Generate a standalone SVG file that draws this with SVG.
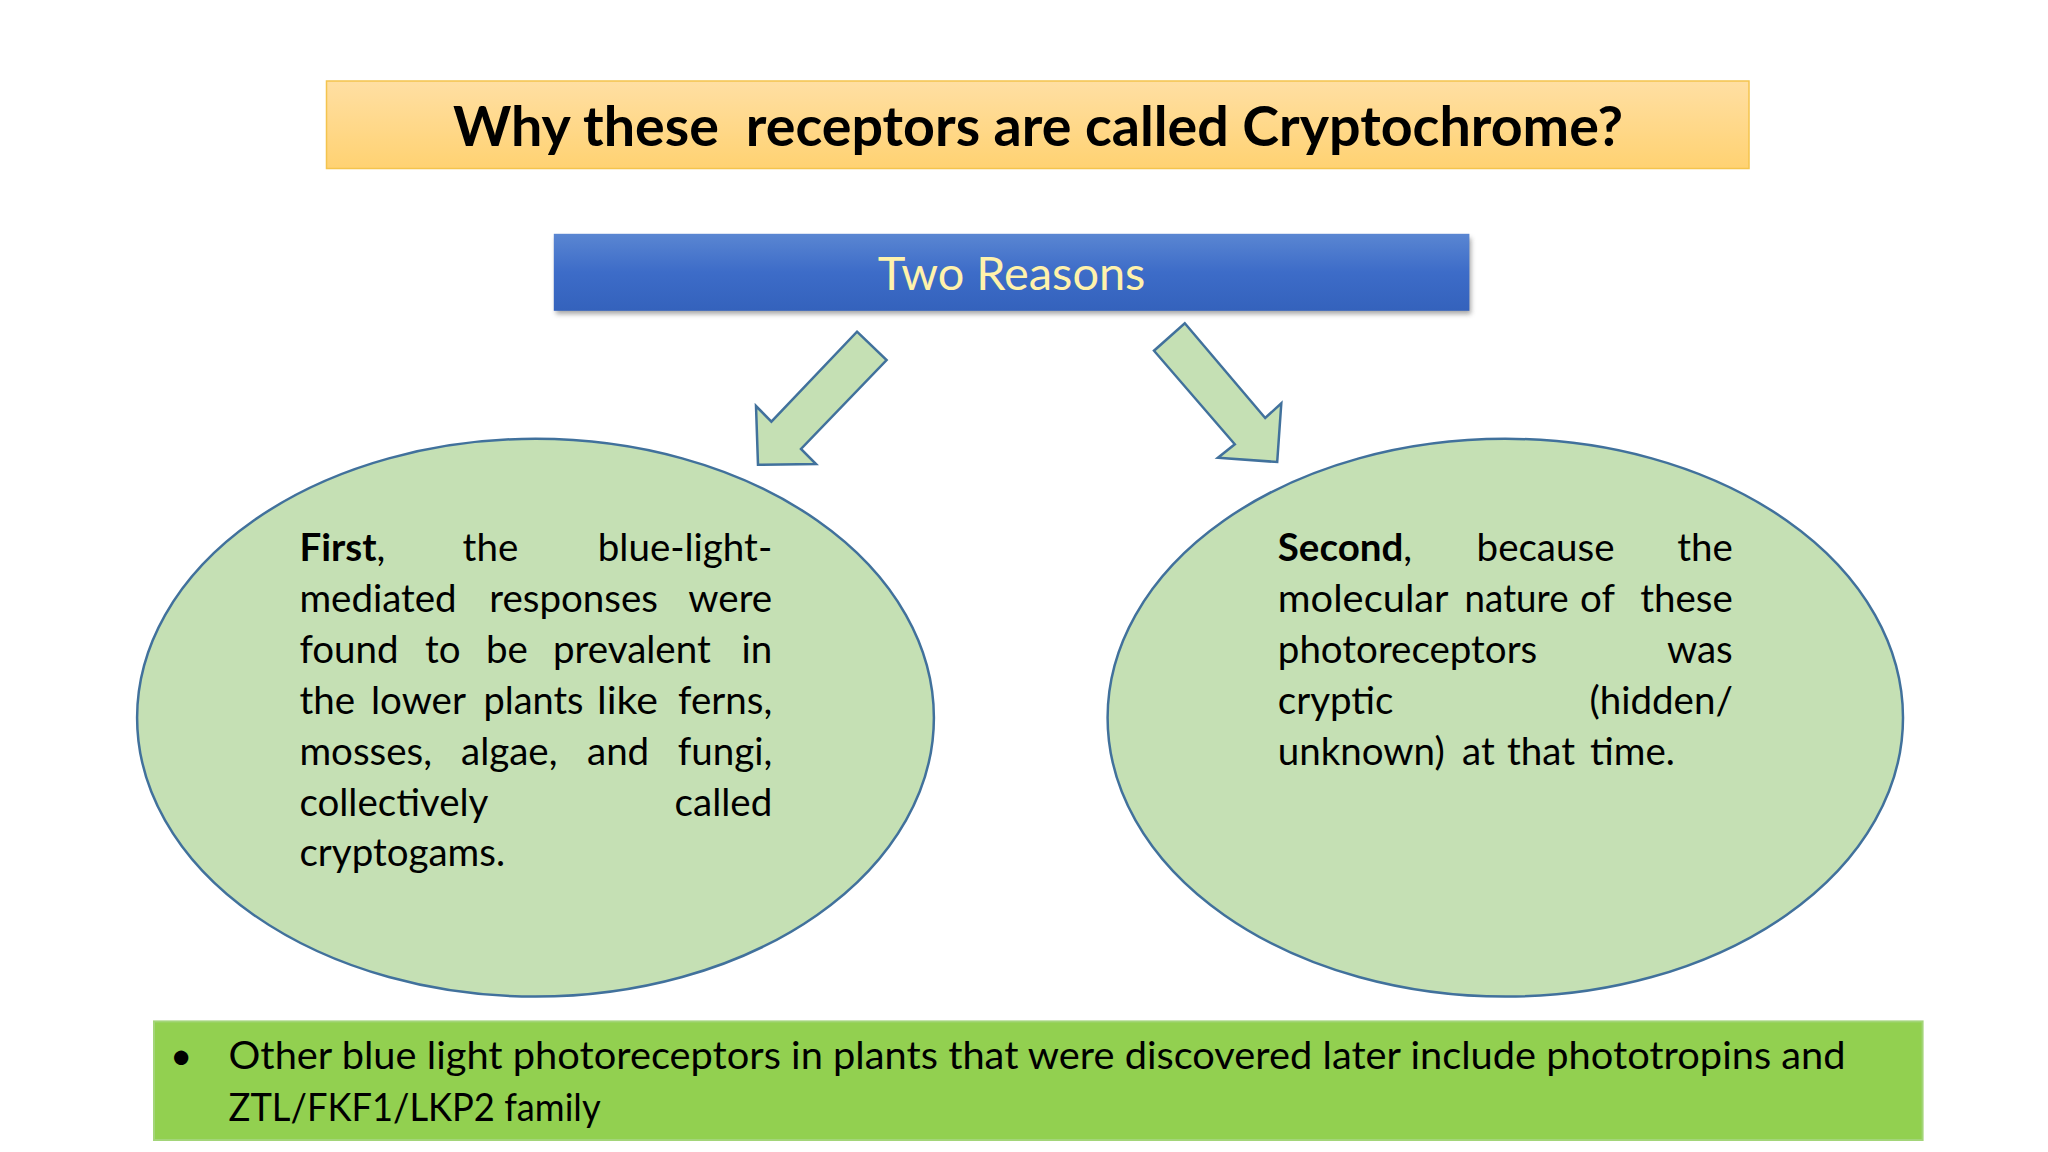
<svg xmlns="http://www.w3.org/2000/svg" width="2048" height="1152" viewBox="0 0 2048 1152">
<defs>
<linearGradient id="gTitle" x1="0" y1="0" x2="0" y2="1">
<stop offset="0" stop-color="#FFDFA3"/><stop offset="1" stop-color="#FFD272"/>
</linearGradient>
<linearGradient id="gBlue" x1="0" y1="0" x2="0" y2="1">
<stop offset="0" stop-color="#5A86D2"/><stop offset="0.5" stop-color="#3D6CC8"/><stop offset="1" stop-color="#3462BC"/>
</linearGradient>
<filter id="shadow" x="-5%" y="-20%" width="110%" height="160%">
<feGaussianBlur stdDeviation="2.5"/>
</filter>
<style>
.body{font-family:Lato,"Open Sans",sans-serif;font-size:38.5px;fill:#000}
.end{text-anchor:end}
.b{font-weight:bold}
.shape{fill:#C5E0B4;stroke:#41719C;stroke-width:2.5}
</style>
</defs>
<rect width="2048" height="1152" fill="#FFFFFF"/>

<g id="title">
<rect x="326.5" y="81" width="1422.5" height="87.5" fill="url(#gTitle)" stroke="#F4C44E" stroke-width="1.5"/>
<text x="453" y="145.5" textLength="1170" lengthAdjust="spacingAndGlyphs" style="white-space:pre" font-family="Lato, 'Open Sans', sans-serif" font-weight="bold" font-size="55" fill="#000">Why these  receptors are called Cryptochrome?</text>
</g>

<g id="two-reasons">
<rect x="556" y="238" width="915" height="76" fill="#7F7F7F" opacity="0.7" filter="url(#shadow)"/>
<rect x="553.8" y="233.8" width="915.6" height="77" fill="url(#gBlue)"/>
<text x="877.7" y="289.5" textLength="267.7" lengthAdjust="spacingAndGlyphs" font-family="Lato, 'Open Sans', sans-serif" font-size="46" fill="#FFF2AB">Two Reasons</text>
</g>

<g id="connectors">
<polygon class="shape" points="857,331.7 886.6,360 801,449 816,464 758,464.7 756,406 771.4,421.7"/>
<polygon class="shape" points="1184.8,323.3 1265.2,418 1281.3,403.3 1277.2,462 1217.9,457.7 1234.8,444.3 1154,350.7"/>
</g>

<g id="first-reason">
<ellipse class="shape" cx="535.5" cy="717.7" rx="398.4" ry="278.9" stroke-width="2"/>
<text class="body">
<tspan x="299.4" y="561" class="b">First</tspan><tspan>,</tspan>
<tspan x="462.6" y="561">the</tspan>
<tspan x="299.4" y="611.9">mediated</tspan>
<tspan x="489.2" y="611.9">responses</tspan>
<tspan x="299.4" y="662.8">found</tspan>
<tspan x="425" y="662.8">to</tspan>
<tspan x="486" y="662.8">be</tspan>
<tspan x="553" y="662.8">prevalent</tspan>
<tspan x="299.4" y="713.7">the</tspan>
<tspan x="371" y="713.7">lower</tspan>
<tspan x="483.5" y="713.7" textLength="100" lengthAdjust="spacingAndGlyphs">plants</tspan>
<tspan x="597" y="713.7" textLength="61" lengthAdjust="spacingAndGlyphs">like</tspan>
<tspan x="299.4" y="764.6">mosses,</tspan>
<tspan x="461" y="764.6">algae,</tspan>
<tspan x="587" y="764.6">and</tspan>
<tspan x="299.4" y="815.5">collectively</tspan>
<tspan x="299.4" y="866.4">cryptogams.</tspan>
</text>
<text class="body end" x="772.2" y="561">blue-light-</text>
<text class="body end" x="772.2" y="611.9">were</text>
<text class="body end" x="772.2" y="662.8">in</text>
<text class="body end" x="772.2" y="713.7">ferns,</text>
<text class="body end" x="772.2" y="764.6">fungi,</text>
<text class="body end" x="772.2" y="815.5">called</text>
</g>

<g id="second-reason">
<ellipse class="shape" cx="1505.3" cy="717.7" rx="397.7" ry="278.9" stroke-width="2"/>
<text class="body">
<tspan x="1277.8" y="561" class="b">Second</tspan><tspan>,</tspan>
<tspan x="1476.6" y="561">because</tspan>
<tspan x="1277.8" y="611.9" textLength="170" lengthAdjust="spacingAndGlyphs">molecular</tspan>
<tspan x="1464.5" y="611.9" textLength="104" lengthAdjust="spacingAndGlyphs">nature</tspan>
<tspan x="1580" y="611.9">of</tspan>
<tspan x="1277.8" y="662.8">photoreceptors</tspan>
<tspan x="1277.8" y="713.7">cryptic</tspan>
<tspan x="1277.8" y="764.6">unknown)</tspan>
<tspan x="1462" y="764.6">at</tspan>
<tspan x="1507" y="764.6">that</tspan>
<tspan x="1590" y="764.6">time.</tspan>
</text>
<text class="body end" x="1732.8" y="561">the</text>
<text class="body end" x="1732.8" y="611.9">these</text>
<text class="body end" x="1732.8" y="662.8">was</text>
<text class="body end" x="1732.8" y="713.7">(hidden/</text>
</g>

<g id="note">
<rect x="154" y="1021.4" width="1768.6" height="118.6" fill="#92D050" stroke="#A3D579" stroke-width="2"/>
<text class="body" x="170" y="1069">•</text>
<text class="body" x="228.6" y="1069" textLength="1617" lengthAdjust="spacingAndGlyphs">Other blue light photoreceptors in plants that were discovered later include phototropins and</text>
<text class="body" x="228.6" y="1120.5" textLength="372" lengthAdjust="spacingAndGlyphs">ZTL/FKF1/LKP2 family</text>
</g>
</svg>
